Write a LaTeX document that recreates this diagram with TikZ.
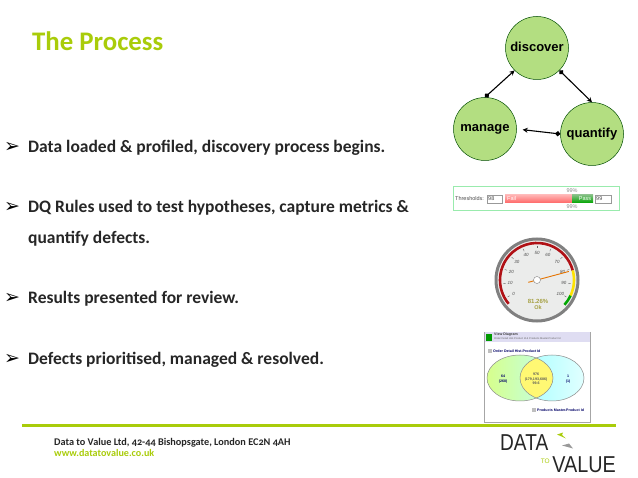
\documentclass[tikz,border=0pt]{standalone}
\usepackage{fontspec}
\setmainfont{Carlito}
\newfontfamily\arrowfont{DejaVu Sans}
\newfontfamily\oldfig[Numbers=OldStyle]{Carlito}
\newfontfamily\helv{Liberation Sans}
\usetikzlibrary{arrows.meta}
\definecolor{dtvgreen}{HTML}{A9CC0A}
\definecolor{cyclefill}{HTML}{B3DE81}
\definecolor{ringred}{HTML}{B01116}
\tikzset{
  cyclenode/.style={circle,draw=black!70!green,line width=.5pt,fill=cyclefill,minimum size=63pt,inner sep=0pt,text depth=2.5pt,font=\helv\bfseries\fontsize{13}{15}\selectfont},
  cyclelink/.style={{Circle[length=5pt,width=5pt]}-{Stealth[length=5pt,width=5pt]},line width=1.1pt},
  bulletitem/.style={anchor=base west,inner sep=0pt,font=\bfseries\fontsize{17.5}{20}\selectfont,text=black!85},
  bulletmark/.style={anchor=base west,inner sep=0pt,font=\arrowfont\fontsize{19}{20}\selectfont},
  tinytext/.style={inner sep=0pt,font=\helv\fontsize{5.5}{6}\selectfont,text=black!70},
  microtext/.style={inner sep=0pt,font=\helv\bfseries\fontsize{3.6}{4.4}\selectfont,text=blue!40!black},
  gaugelabel/.style={inner sep=0pt,font=\helv\itshape\fontsize{4.5}{5}\selectfont,text=black!70}
}
\begin{document}
\begin{tikzpicture}[x=1pt,y=-1pt]
	\useasboundingbox (0,0) rectangle (638,478);
	\node[anchor=base west,inner sep=0pt,text=dtvgreen,font=\bfseries\fontsize{26.8}{30}\selectfont] (title) at (32,51) {The Process};

	\node[cyclenode] (discover) at (537,48) {discover};
	\node[cyclenode] (manage) at (485,129) {manage};
	\node[cyclenode] (quantify) at (592,134) {quantify};
	\draw[cyclelink] (manage.90) -- (discover.225);
	\draw[cyclelink] (discover.-45) -- (quantify.90);
	\draw[cyclelink,shorten >=6pt] (quantify.180) -- (manage.0);

	\node[bulletmark] (mark1) at (4,153) {➢};
	\node[bulletitem] (item1) at (28,153) {Data loaded \& profiled, discovery process begins.};
	\node[bulletmark] (mark2) at (4,213) {➢};
	\node[bulletitem] (item2) at (28,213) {DQ Rules used to test hypotheses, capture metrics \&};
	\node[bulletitem] (item2b) at (28,244) {quantify defects.};
	\node[bulletmark] (mark3) at (4,304) {➢};
	\node[bulletitem] (item3) at (28,304) {Results presented for review.};
	\node[bulletmark] (mark4) at (4,365) {➢};
	\node[bulletitem] (item4) at (28,365) {Defects prioritised, managed \& resolved.};

	% thresholds bar
	\draw[draw=teal!40!green!40,line width=1pt,fill=white] (453,187) rectangle (619,211);
	\node[tinytext,anchor=west] (thr) at (455,199) {Thresholds:};
	\draw[black!40,line width=.4pt] (487,195) rectangle (502,203);
	\node[tinytext,anchor=west] (thrlow) at (488,199) {98};
	\shade[top color=red!30,bottom color=red!60] (505,195) rectangle (572,203);
	\shade[top color=green!50!black!50,bottom color=green!65!black] (572,195) rectangle (593,203);
	\node[tinytext,anchor=west,text=white] (fail) at (507,199) {Fail};
	\node[tinytext,text=white] (pass) at (585,199) {Pass};
	\draw[black!40,line width=.4pt] (595,195) rectangle (611,203);
	\node[tinytext,anchor=west] (thrhigh) at (596,199) {99};
	\node[tinytext,text=black!45] (pcttop) at (572,191) {99\%};
	\node[tinytext,text=black!45] (pctbot) at (572,207) {99\%};

	% gauge
	\begin{scope}[shift={(537,280)},y=1pt]
		\fill[green!8!black!8] (0,0) circle (40);
		\draw[black!50,line width=3pt] (0,0) circle (41);
		\draw[ringred,line width=2.6pt] (220:37) arc (220:15:37);
		\draw[yellow!85!orange,line width=2.6pt] (15:37) arc (15:-25:37);
		\draw[green!65!black,line width=2.6pt] (-25:37) arc (-25:-42:37);
		\foreach \val in {0,10,...,100}{
			\draw[black!60,line width=.4pt] ({210-2.4*\val}:34) -- ({210-2.4*\val}:31.5);
			\node[gaugelabel] (tick\val) at ({210-2.4*\val}:27) {\val};
		}
		\coordinate (needlea) at (195:9);
		\coordinate (needleb) at (15:33);
		\draw[orange!90!black,line width=.9pt] (needlea) -- (needleb);
		\node[circle,draw=black!50,fill=white,line width=.4pt,minimum size=7pt,inner sep=0pt] (hub) at (0,0) {};
		\node[inner sep=0pt,text=yellow!60!black,font=\helv\bfseries\fontsize{6}{7}\selectfont] (gaugepct) at (1,-21) {81.26\%};
		\node[inner sep=0pt,text=yellow!60!black,font=\helv\bfseries\fontsize{5.5}{6}\selectfont] (gaugeok) at (1,-28) {Ok};
	\end{scope}

	% venn window
	\draw[black!35,line width=.6pt,fill=white] (484,332) rectangle (590,422);
	\fill[cyan!15!blue!12] (484.5,332.5) rectangle (589.5,342);
	\fill[green!60!black] (486,334) rectangle (492,341);
	\node[microtext,anchor=west,text=black!75] (venntitle) at (494,335) {View Diagram};
	\node[microtext,anchor=west,font=\helv\fontsize{2.6}{3}\selectfont,text=black!60] (vennsub) at (494,339) {Order Detail Hist.Product Id \& Products Master.Product Id};
	\fill[black!25] (488,349) rectangle (492,353);
	\node[microtext,anchor=west] (vennleft) at (493,351) {Order Detail Hist.Product Id};
	\shade[left color=green!35!yellow!45,right color=green!30!cyan!25] (520,378) ellipse (33 and 23);
	\shade[left color=cyan!35,right color=cyan!12] (552,378) ellipse (32 and 23);
	\begin{scope}
		\clip (520,378) ellipse (33 and 23);
		\fill[yellow!55] (552,378) ellipse (32 and 23);
	\end{scope}
	\draw[black!45,line width=.5pt] (520,378) ellipse (33 and 23);
	\draw[black!45,line width=.5pt] (552,378) ellipse (32 and 23);
	\node[microtext,align=center] (vennonly) at (503,379) {64\\(268)};
	\node[microtext,align=center,text=black!65] (vennboth) at (536,379) {976\\(179,193,686)\\99.6};
	\node[microtext,align=center] (vennright) at (568,379) {1\\(1)};
	\fill[black!25] (532,408) rectangle (536,412);
	\node[microtext,anchor=west] (vennrighttitle) at (537,410) {Products Master.Product Id};

	% footer
	\coordinate (rulea) at (22,426);
	\coordinate (ruleb) at (616,426);
	\draw[dtvgreen,line width=3pt] (rulea) -- (ruleb);
	\node[anchor=base west,inner sep=0pt,text=black!85,font=\oldfig\bfseries\fontsize{10.25}{12}\selectfont] (address) at (54,446) {Data to Value Ltd, 42-44 Bishopsgate, London EC2N 4AH};
	\node[anchor=base west,inner sep=0pt,text=dtvgreen,font=\oldfig\bfseries\fontsize{10.1}{12}\selectfont] (website) at (54,457) {www.datatovalue.co.uk};

	% logo
	\node[anchor=base west,inner sep=0pt,text=black!85,font=\helv\fontsize{23}{25}\selectfont] (logodata) at (500,450.5) {\scalebox{.83}[1]{DATA}};
	\node[anchor=base east,inner sep=0pt,text=black!85,font=\helv\fontsize{23}{25}\selectfont] (logovalue) at (616,472.5) {\scalebox{.86}[1]{VALUE}};
	\node[anchor=base east,inner sep=0pt,text=dtvgreen,font=\helv\fontsize{6.5}{8}\selectfont] (logoto) at (550,464) {TO};
	\fill[dtvgreen] (557,434.5) -- (563,432.5) -- (562,435) -- (566,438.5) -- cycle;
	\fill[black!40] (562,445.5) -- (569,443.5) -- (573,448.5) -- cycle;
\end{tikzpicture}
\end{document}
